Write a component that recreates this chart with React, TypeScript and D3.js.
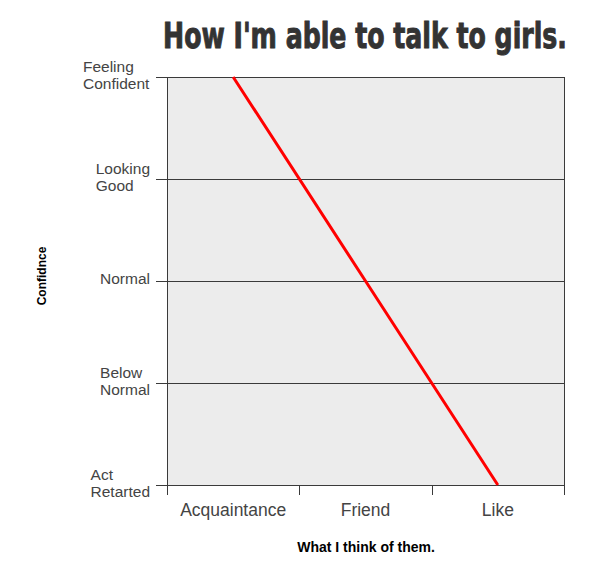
import React, { useEffect, useRef } from 'react';
import * as d3 from 'd3';

// data
const categories = ['Acquaintance', 'Friend', 'Like'];
const confidence = [4, 2, 0];
const levelLabels = [
  ['Act', 'Retarted'],
  ['Below', 'Normal'],
  ['Normal'],
  ['Looking', 'Good'],
  ['Feeling', 'Confident'],
];

const App = () => {
  const svgRef = useRef<SVGSVGElement>(null);

  useEffect(() => {
    const root = d3.select(svgRef.current);
    root.selectAll('*').remove();

    const width = 600;
    const height = 587;
    const left = 167;
    const right = 564;
    const top = 77;
    const bottom = 485;

    root.attr('width', width).attr('height', height);

    const x = d3.scaleBand<string>().domain(categories).range([left, right]).padding(0);
    const y = d3.scaleLinear().domain([0, levelLabels.length - 1]).range([bottom, top]);

    // fondo
    root.append('rect')
      .attr('x', left)
      .attr('y', top)
      .attr('width', right - left)
      .attr('height', bottom - top)
      .attr('fill', '#ececec');

    // líneas horizontales + ticks izquierdos
    const levels = d3.range(levelLabels.length);
    root.selectAll('.grid')
      .data(levels)
      .enter().append('line')
      .attr('x1', left - 11)
      .attr('x2', right)
      .attr('y1', d => y(d) + 0.5)
      .attr('y2', d => y(d) + 0.5)
      .attr('stroke', '#3a3a3a')
      .attr('stroke-width', 1);

    // ejes verticales
    root.append('line')
      .attr('x1', left + 0.5).attr('x2', left + 0.5)
      .attr('y1', top).attr('y2', bottom + 10)
      .attr('stroke', '#3a3a3a');
    root.append('line')
      .attr('x1', right + 0.5).attr('x2', right + 0.5)
      .attr('y1', top).attr('y2', bottom + 10)
      .attr('stroke', '#3a3a3a');

    // ticks de abajo en los bordes de cada banda
    const edges = categories.map(c => x(c) as number).concat([right]);
    root.selectAll('.xtick')
      .data(edges)
      .enter().append('line')
      .attr('x1', d => Math.round(d) + 0.5)
      .attr('x2', d => Math.round(d) + 0.5)
      .attr('y1', bottom)
      .attr('y2', bottom + 10)
      .attr('stroke', '#3a3a3a');

    // etiquetas x
    root.selectAll('.xlabel')
      .data(categories)
      .enter().append('text')
      .attr('x', d => (x(d) as number) + x.bandwidth() / 2)
      .attr('y', bottom + 31)
      .attr('text-anchor', 'middle')
      .style('font-family', 'Liberation Sans, Arial, sans-serif')
      .style('font-size', '17.5px')
      .style('fill', '#444')
      .text(d => d);

    // etiquetas y (bloque alineado a la izquierda, con borde derecho en 150)
    const lineH = 17;
    levelLabels.forEach((lines, i) => {
      const t = root.append('text')
        .style('font-family', 'Liberation Sans, Arial, sans-serif')
        .style('font-size', '15.5px')
        .style('fill', '#444');
      const y0 = y(i) - 2 - ((lines.length - 1) * lineH) / 2 + 5;
      lines.forEach((s, j) => {
        t.append('tspan')
          .attr('x', 0)
          .attr('y', y0 + j * lineH)
          .text(s);
      });
      const w = (t.node() as SVGTextElement).getBBox().width;
      t.attr('transform', `translate(${150 - w},0)`);
    });

    // línea roja
    const line = d3.line<number>()
      .x((d, i) => (x(categories[i]) as number) + x.bandwidth() / 2)
      .y(d => y(d));
    root.append('path')
      .datum(confidence)
      .attr('d', line)
      .attr('fill', 'none')
      .attr('stroke', '#ff0000')
      .attr('stroke-width', 3);

    // título, escalado para que ocupe 404px de ancho
    const title = root.append('text')
      .attr('x', 0)
      .attr('y', 0)
      .attr('text-anchor', 'middle')
      .style('font-family', 'DejaVu Sans Condensed, DejaVu Sans, sans-serif')
      .style('font-weight', 'bold')
      .style('font-size', '34px')
      .style('fill', '#333')
      .style('stroke', '#333')
      .style('stroke-width', '0.9px')
      .text("How I'm able to talk to girls.");
    const tw = (title.node() as SVGTextElement).getComputedTextLength();
    title.attr('transform', `translate(365,48) scale(${404 / tw},1.06)`);

    // títulos de ejes
    root.append('text')
      .attr('x', 366)
      .attr('y', 552)
      .attr('text-anchor', 'middle')
      .style('font-family', 'Liberation Sans, Arial, sans-serif')
      .style('font-weight', 'bold')
      .style('font-size', '14px')
      .style('fill', '#000')
      .text('What I think of them.');

    root.append('text')
      .attr('transform', 'translate(46,276) rotate(-90)')
      .attr('text-anchor', 'middle')
      .style('font-family', 'Liberation Sans, Arial, sans-serif')
      .style('font-weight', 'bold')
      .style('font-size', '12px')
      .style('fill', '#000')
      .text('Confidnce');
  }, []);

  return (
    <svg ref={svgRef} style={{ position: 'absolute', left: 0, top: 0 }}></svg>
  );
};

export default App;
